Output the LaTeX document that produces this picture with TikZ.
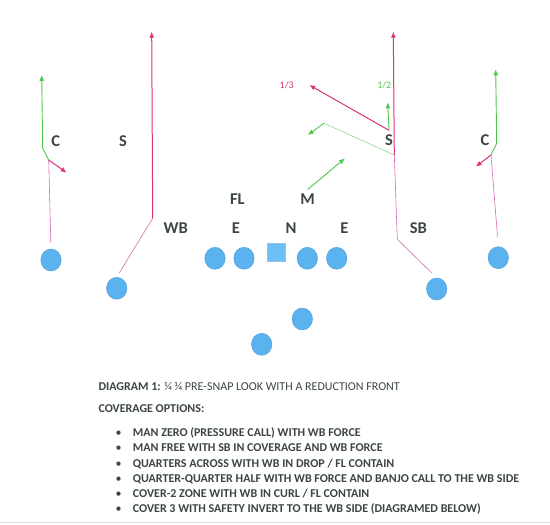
\documentclass[tikz,border=0pt]{standalone}
\usepackage{fontspec}
\setmainfont{Carlito}
\usepackage{tikz}
\usetikzlibrary{positioning}
\usetikzlibrary{arrows.meta}
\usetikzlibrary{shapes.geometric}
\definecolor{pinkroute}{HTML}{E0307A}
\definecolor{paleroute}{HTML}{D46AB2}
\definecolor{greenroute}{HTML}{4CC64C}
\definecolor{playerblue}{HTML}{5AB2EE}
\definecolor{playeredge}{HTML}{4C9BDA}
\definecolor{snapblue}{HTML}{6CBEF4}
\definecolor{labelgray}{HTML}{3B4545}
\tikzset{player/.style={ellipse,draw=playeredge,fill=playerblue,minimum width=20.5pt,minimum height=22pt,inner sep=0pt}}
\tikzset{snapper/.style={rectangle,draw=playeredge!60,fill=snapblue,minimum size=18.5pt,inner sep=0pt}}
\tikzset{position/.style={font=\bfseries\fontsize{16.5}{16.5}\selectfont,text=labelgray,inner sep=0pt}}
\tikzset{zonetag/.style={font=\fontsize{10}{10}\selectfont,inner sep=0pt}}
\tikzset{copy/.style={font=\fontsize{12}{12}\selectfont,text=labelgray,inner sep=0pt,anchor=base west}}
\tikzset{copybold/.style={copy,font=\bfseries\fontsize{12}{12}\selectfont}}
\tikzset{manline/.style={draw=paleroute,line width=0.6pt}}
\tikzset{route/.style={draw=pinkroute,line width=1pt,->}}
\tikzset{zone/.style={draw=greenroute,line width=0.9pt,->}}
\tikzset{thinzone/.style={draw=greenroute!80,line width=0.45pt}}

\begin{document}
\begin{tikzpicture}[x=1pt,y=-1pt,>={Latex[length=6pt,width=5pt]}]
    \useasboundingbox (0,0) rectangle (550,525);
    % offense
    \node[player] (wrL) at (51,260) {};
    \node[player] (slotL) at (116.7,288.3) {};
    \node[player] (olL2) at (215,258.3) {};
    \node[player] (olL1) at (244,258.3) {};
    \node[snapper] (snap) at (276,252.2) {};
    \node[player] (olR1) at (307.3,258.3) {};
    \node[player] (olR2) at (336.7,258.3) {};
    \node[player] (slotR) at (436.7,289) {};
    \node[player] (wrR) at (498.3,257.7) {};
    \node[player] (qb) at (302.3,319) {};
    \node[player] (rb) at (261.7,344.3) {};
    % defense
    \node[position] (cL) at (55.7,140.7) {C};
    \node[position] (sL) at (123,140.7) {S};
    \node[position] (wb) at (175.7,228.3) {WB};
    \node[position] (fl) at (237.3,199) {FL};
    \node[position] (eL) at (236,228.3) {E};
    \node[position] (n) at (291,228.3) {N};
    \node[position] (m) at (307.7,199) {M};
    \node[position] (eR) at (344.3,228.3) {E};
    \node[position] (sb) at (418.3,228.3) {SB};
    \node[position] (sR) at (389,140) {S};
    \node[position] (cR) at (485,140) {C};
    \node[zonetag,text=pinkroute] (third) at (286.7,85) {1/3};
    \node[zonetag,text=greenroute] (half) at (384.3,85) {1/2};

    % left corner
    \coordinate (cLbend) at (48.7,160);
    \coordinate (cLhook) at (66.7,172.7);
    \coordinate (cLturn) at (42.7,148);
    \coordinate (cLdeep) at (41.7,75);
    \draw[manline,shorten <=6pt] (wrL.north) -- (cLbend);
    \draw[route] (cLbend) -- (cLhook);
    \draw[zone] (cLbend) -- (cLturn) -- (cLdeep);
    % left slot
    \coordinate (slotLbreak) at (152.7,218.3);
    \coordinate (slotLdeep) at (151.7,31.7);
    \draw[manline,shorten <=5pt] (slotL.north) -- (slotLbreak);
    \draw[route] (slotLbreak) -- (slotLdeep);
    % right slot
    \coordinate (slotRbreak) at (397.3,239.3);
    \coordinate (slotRmid) at (394.3,155);
    \coordinate (slotRdeep) at (393.3,31.7);
    \draw[manline,shorten <=7pt] (slotR.north) -- (slotRbreak) -- (slotRmid);
    \draw[route] (slotRmid) -- (slotRdeep);
    % safety rotation
    \coordinate (thirdTip) at (309.3,85);
    \coordinate (halfTip) at (387.7,102.3);
    \coordinate (sRcut) at (324,123.3);
    \coordinate (sRflat) at (307.7,135);
    \draw[route] ([yshift=4pt]sR.north) -- (thirdTip);
    \draw[zone] ([yshift=4pt]sR.north) -- (halfTip);
    \draw[thinzone] (slotRmid) -- (sRcut);
    \draw[zone] (sRcut) -- (sRflat);
    % mike
    \coordinate (mTip) at (345,158.3);
    \draw[zone] ([yshift=4pt]m.north) -- (mTip);
    % right corner
    \coordinate (cRbend) at (491,155);
    \coordinate (cRhook) at (475.7,166.7);
    \coordinate (cRturn) at (496.7,143.3);
    \coordinate (cRdeep) at (495.7,69.3);
    \draw[manline,shorten <=10pt] (wrR.north) -- (cRbend);
    \draw[route] (cRbend) -- (cRhook);
    \draw[zone] (cRbend) -- (cRturn) -- (cRdeep);

    % caption
    \node[copy] (title) at (98.3,390.7) {\textbf{DIAGRAM 1:} ¼ ¼ PRE-SNAP LOOK WITH A REDUCTION FRONT};
    \node[copybold] (options) at (98.3,412.7) {COVERAGE OPTIONS:};
    \foreach \txt [count=\i] in {MAN ZERO (PRESSURE CALL) WITH WB FORCE,
        MAN FREE WITH SB IN COVERAGE AND WB FORCE,
        QUARTERS ACROSS WITH WB IN DROP / FL CONTAIN,
        QUARTER-QUARTER HALF WITH WB FORCE AND BANJO CALL TO THE WB SIDE,
        COVER-2 ZONE WITH WB IN CURL / FL CONTAIN,
        COVER 3 WITH SAFETY INVERT TO THE WB SIDE (DIAGRAMED BELOW)}{
        \node[copy] (dot\i) at (115.3,{436.8+15.1*(\i-1)}) {•};
        \node[copybold] (opt\i) at (132.7,{436.8+15.1*(\i-1)}) {\txt};
    }
    \draw[draw=black!12,line width=1.5pt] (0,522.5) -- (550,522.5);
\end{tikzpicture}
\end{document}
